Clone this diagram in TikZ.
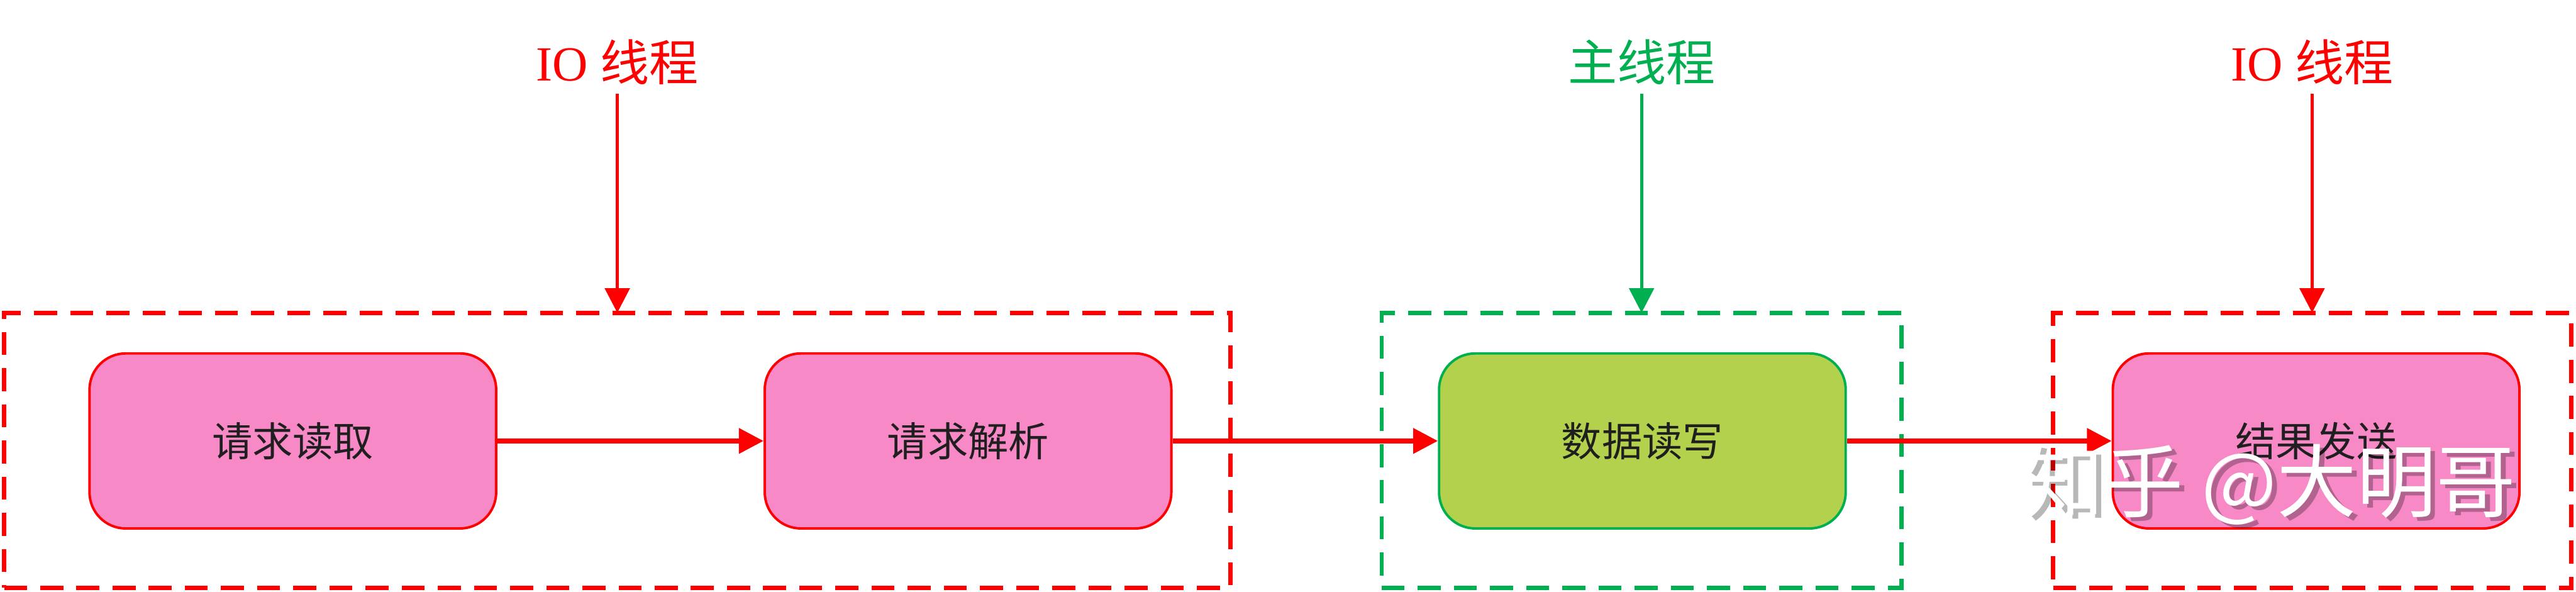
\documentclass[tikz,border=0pt]{standalone}
\usepackage{fontspec}
\setmainfont{Noto Sans CJK SC}
\newfontfamily\latinserif{Liberation Serif}
\usetikzlibrary{arrows.meta}
\definecolor{ioRed}{HTML}{FF0000}
\definecolor{pinkFill}{HTML}{F789C7}
\definecolor{mainGreen}{HTML}{00B050}
\definecolor{greenFill}{HTML}{B3D14C}
\definecolor{txt}{HTML}{1F1F1F}
\begin{document}
\begin{tikzpicture}[x=1mm,y=-1mm,
  stage/.style={draw, rounded corners=22mm, minimum width=247.5mm, minimum height=106.5mm,
    line width=1.5mm, inner sep=0, text=txt, font=\fontsize{70}{80}\selectfont},
  iostage/.style={stage, draw=ioRed, fill=pinkFill},
  mainstage/.style={stage, draw=mainGreen, fill=greenFill},
  group/.style={draw, dash pattern=on 14mm off 8mm, line width=2.6mm,
    minimum height=167.3mm, outer sep=0, inner sep=0},
  threadlabel/.style={font=\fontsize{85}{95}\selectfont, inner sep=0},
  flow/.style={draw=ioRed, line width=2.8mm, -{Triangle[length=15mm,width=15mm]}},
  assign/.style={line width=2mm, -{Triangle[length=15mm,width=15mm]}},
  watermark/.style={font=\fontsize{138}{150}\selectfont, inner sep=0},
]
\useasboundingbox (0,0) rectangle (1568,360);

% dashed thread groups
\node[group, draw=ioRed, minimum width=746.5mm] (g1) at (375.75,274) {};
\node[group, draw=mainGreen, minimum width=316.4mm] (g2) at (999.2,274) {};
\node[group, draw=ioRed, minimum width=315.3mm] (g3) at (1407.35,274) {};

% stages
\node[iostage] (n1) at (178.25,268.3) {请求读取};
\node[iostage] (n2) at (589.25,268.3) {请求解析};
\node[mainstage] (n3) at (999.7,268.3) {数据读写};
\node[iostage] (n4) at (1409.8,268.3) {结果发送};

% flow arrows
\draw[flow] (n1.east) -- (n2.west);
\draw[flow] (n2.east) -- (n3.west);
\draw[flow] (n3.east) -- (n4.west);

% thread labels
\node[threadlabel, text=ioRed] (l1) at (375.75,37.8) {{\latinserif IO }线程};
\node[threadlabel, text=mainGreen] (l2) at (999.2,37.8) {主线程};
\node[threadlabel, text=ioRed] (l3) at (1407.35,37.8) {{\latinserif IO }线程};

\coordinate (t1) at (375.75,57);
\coordinate (t2) at (999.2,57);
\coordinate (t3) at (1407.35,57);
\draw[assign, draw=ioRed] (t1) -- (g1.north);
\draw[assign, draw=mainGreen] (t2) -- (g2.north);
\draw[assign, draw=ioRed] (t3) -- (g3.north);

% watermark
\node[watermark, text=black, text opacity=0.28] (wms) at (1384.8,297.3) {知乎 @大明哥};
\node[watermark, text=white] (wm) at (1381.8,294.8) {知乎 @大明哥};
\end{tikzpicture}
\end{document}
